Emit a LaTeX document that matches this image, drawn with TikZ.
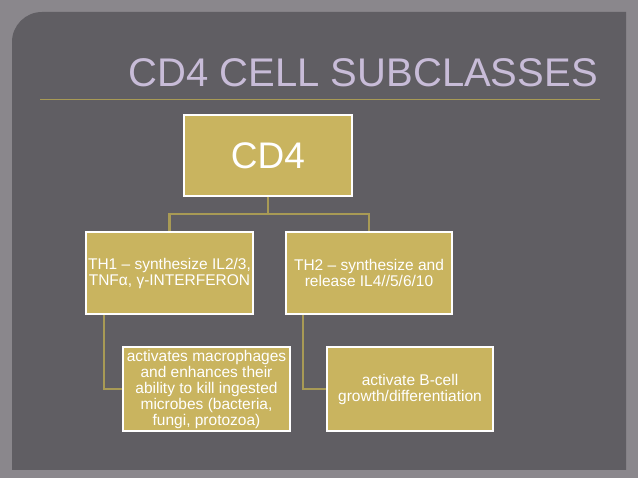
\documentclass[tikz,border=0pt]{standalone}
\usepackage{fontspec}
\setmainfont{Liberation Sans}
\begin{document}
\begin{tikzpicture}[x=1pt,y=-1pt,
  box/.style={draw=white,line width=1.8pt,fill=boxc,text=white,align=center,inner sep=0pt},
  txt/.style={font=\fontsize{15.5}{16}\selectfont},
  conn/.style={draw=linec,line width=2.5pt}]
\definecolor{boxc}{HTML}{C9B45F}
\definecolor{linec}{HTML}{A89A55}
\definecolor{bgc}{HTML}{8A878C}
\definecolor{panelc}{HTML}{605E63}
\definecolor{titlec}{HTML}{C8BCD8}
\fill[bgc] (0,0) rectangle (638,478);
\useasboundingbox (0,0) rectangle (638,478);
\fill[panelc] (12,470) -- (12,42) arc[start angle=180,end angle=270,radius=30] -- (626,12) -- (626,470) -- cycle;
\node[anchor=base east,text=titlec,font=\fontsize{40}{44}\selectfont,inner sep=0pt] (title) at (598,87) {CD4 CELL SUBCLASSES};
\draw[linec,line width=1pt] (40,100) coordinate (r1) -- (600,100) coordinate (r2);
\node[box,minimum width=168pt,minimum height=81pt,font=\fontsize{37}{40}\selectfont] (cd4) at (268,155.5) {CD4};
\node[box,txt,minimum width=167pt,minimum height=82pt] (th1) at (169.5,273) {TH1 – synthesize IL2/3,\\TNFα, γ-INTERFERON};
\node[box,txt,minimum width=166pt,minimum height=82pt] (th2) at (369,273) {TH2 – synthesize and\\release IL4//5/6/10};
\node[box,txt,minimum width=167pt,minimum height=84pt] (c1) at (206.5,389) {activates macrophages\\and enhances their\\ability to kill ingested\\microbes (bacteria,\\fungi, protozoa)};
\node[box,txt,minimum width=166pt,minimum height=84pt] (c2) at (410,389) {activate B-cell\\growth/differentiation};
\draw[conn] (cd4.south) -- ++(0,17) -| (th1.north);
\draw[conn] (cd4.south) -- ++(0,17) -| (th2.north);
\draw[conn] (th1.south -| 104,0) |- (c1.west);
\draw[conn] (th2.south -| 303,0) |- (c2.west);
\end{tikzpicture}
\end{document}
